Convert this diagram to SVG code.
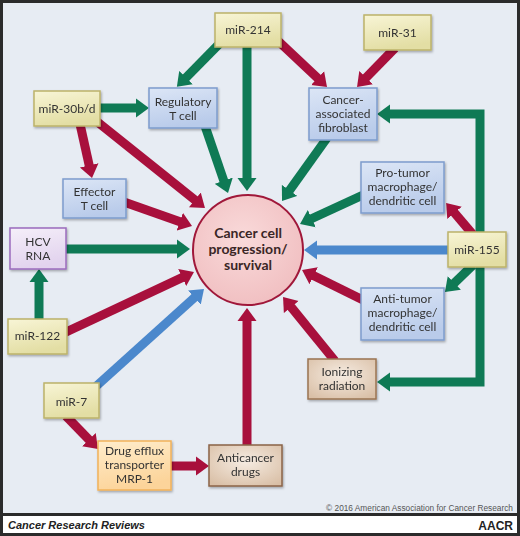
<svg xmlns="http://www.w3.org/2000/svg" width="520" height="536" viewBox="0 0 520 536">
<defs>
<style>
.t{font-family:Lato,"Liberation Sans",sans-serif;font-size:12px;fill:#333;text-anchor:middle}
.ct{font-family:Lato,"Liberation Sans",sans-serif;font-size:14px;font-weight:bold;fill:#3a2626;text-anchor:middle}
.g{stroke:#0f7a55;stroke-width:9;fill:none;marker-end:url(#ag)}
.r{stroke:#a8103c;stroke-width:9;fill:none;marker-end:url(#ar)}
.b{stroke:#4b88cc;stroke-width:9;fill:none;marker-end:url(#ab)}
.mi{fill:url(#gy);stroke:#bcb36a;stroke-width:1.5}
.bl{fill:url(#gb);stroke:#7d9ccd;stroke-width:1.5}
.pu{fill:url(#gp);stroke:#9b6bbd;stroke-width:1.5}
.or{fill:url(#go);stroke:#f2b25a;stroke-width:1.5}
.br{fill:url(#gt);stroke:#8b6347;stroke-width:1.5}
.nd{filter:url(#sh)}
</style>
<marker id="ag" markerUnits="userSpaceOnUse" markerWidth="14" markerHeight="20" viewBox="0 -10 14 20" refX="1" refY="0" orient="auto-start-reverse"><path d="M0,-9.5 L13,0 L0,9.5 Z" fill="#0f7a55"/></marker>
<marker id="ar" markerUnits="userSpaceOnUse" markerWidth="14" markerHeight="20" viewBox="0 -10 14 20" refX="1" refY="0" orient="auto"><path d="M0,-9.5 L13,0 L0,9.5 Z" fill="#a8103c"/></marker>
<marker id="ab" markerUnits="userSpaceOnUse" markerWidth="14" markerHeight="20" viewBox="0 -10 14 20" refX="1" refY="0" orient="auto"><path d="M0,-9.5 L13,0 L0,9.5 Z" fill="#4b88cc"/></marker>
<linearGradient id="gy" x1="0" y1="0" x2="0.3" y2="1"><stop offset="0" stop-color="#f8f5d6"/><stop offset="1" stop-color="#e3dea4"/></linearGradient>
<linearGradient id="gb" x1="0" y1="0" x2="0.3" y2="1"><stop offset="0" stop-color="#dce6f6"/><stop offset="1" stop-color="#b9cbea"/></linearGradient>
<linearGradient id="gp" x1="0" y1="0" x2="0.3" y2="1"><stop offset="0" stop-color="#f5eff9"/><stop offset="1" stop-color="#e2d3ee"/></linearGradient>
<linearGradient id="go" x1="0" y1="0" x2="0.3" y2="1"><stop offset="0" stop-color="#ffedcc"/><stop offset="1" stop-color="#fcd49a"/></linearGradient>
<radialGradient id="gt" cx="0.5" cy="0.4" r="0.7"><stop offset="0" stop-color="#f6ece2"/><stop offset="1" stop-color="#d9bfa6"/></radialGradient>
<radialGradient id="gc" cx="0.45" cy="0.4" r="0.6"><stop offset="0" stop-color="#f9dada"/><stop offset="1" stop-color="#f1c0c2"/></radialGradient>
<filter id="sh" x="-10%" y="-10%" width="130%" height="140%"><feDropShadow dx="1" dy="1.5" stdDeviation="1.2" flood-color="#000" flood-opacity="0.3"/></filter>
</defs>
<rect x="0" y="0" width="520" height="536" fill="#2b2b2b"/>
<rect x="3" y="3" width="514" height="510" fill="#e7ecf3"/>
<rect x="3" y="516" width="514" height="17" fill="#ffffff"/>
<text x="513" y="511" style="font-family:'Liberation Sans',sans-serif;font-size:8.3px;fill:#555;text-anchor:end">© 2016 American Association for Cancer Research</text>
<text x="8" y="529" style="font-family:'Liberation Sans',sans-serif;font-size:11px;font-weight:bold;font-style:italic;fill:#222">Cancer Research Reviews</text>
<text x="513" y="530" style="font-family:'Liberation Sans',sans-serif;font-size:12px;font-weight:bold;fill:#222;text-anchor:end">AACR</text>
<g id="connectors">
<line class="g" x1="225" y1="38" x2="185.3" y2="78.3"/>
<line class="g" x1="247" y1="45" x2="247" y2="179"/>
<line class="g" x1="98" y1="108" x2="137" y2="108"/>
<line class="g" x1="205" y1="126" x2="224.1" y2="181.6"/>
<line class="g" x1="327" y1="138" x2="289" y2="191.2"/>
<line class="g" x1="363" y1="195" x2="310.9" y2="219"/>
<line class="g" x1="64" y1="249" x2="178" y2="249"/>
<line class="g" x1="39" y1="321" x2="39" y2="281"/>
<path class="g" d="M389,114 L480,114 L480,382 L389,382" style="marker-start:url(#ag)"/>
<line class="g" x1="473" y1="265" x2="453.6" y2="283.7"/>
<line class="r" x1="275" y1="38" x2="318.3" y2="78.8"/>
<line class="r" x1="395" y1="48" x2="365.4" y2="78.4"/>
<line class="r" x1="80" y1="124" x2="89.4" y2="166.3"/>
<line class="r" x1="95" y1="120" x2="195.6" y2="200.5"/>
<line class="r" x1="124" y1="202" x2="180.7" y2="222"/>
<line class="r" x1="64" y1="333" x2="183.1" y2="277.1"/>
<line class="r" x1="247" y1="447" x2="247" y2="320"/>
<line class="r" x1="335" y1="361" x2="290.6" y2="306.3"/>
<line class="r" x1="363" y1="300" x2="312.8" y2="275.3"/>
<line class="r" x1="475" y1="237" x2="453.9" y2="212.1"/>
<line class="r" x1="66" y1="416" x2="89.6" y2="440.4"/>
<line class="r" x1="169" y1="466" x2="197" y2="466"/>
<line class="b" x1="450" y1="250" x2="316" y2="250"/>
<line class="b" x1="92" y1="390" x2="195.1" y2="297"/>
</g>
<g id="center"><circle cx="248" cy="250" r="55" fill="url(#gc)" stroke="#a0183a" stroke-width="2"/><text class="ct" x="248" y="238">Cancer cell</text><text class="ct" x="248" y="254">progression/</text><text class="ct" x="248" y="270">survival</text></g>
<g id="mir214" class="nd"><rect class="mi" x="215" y="13" width="66" height="34"/><text class="t" x="248" y="34">miR-214</text></g>
<g id="mir31" class="nd"><rect class="mi" x="364" y="15" width="67" height="35"/><text class="t" x="397.5" y="36.5">miR-31</text></g>
<g id="mir30" class="nd"><rect class="mi" x="34" y="91" width="66" height="35"/><text class="t" x="67" y="112.5">miR-30b/d</text></g>
<g id="regt" class="nd"><rect class="bl" x="149" y="88" width="68" height="40"/><text class="t" x="183" y="106">Regulatory</text><text class="t" x="183" y="119.5">T cell</text></g>
<g id="caf" class="nd"><rect class="bl" x="309" y="88" width="68" height="52"/><text class="t" x="343" y="104">Cancer-</text><text class="t" x="343" y="118">associated</text><text class="t" x="343" y="132">fibroblast</text></g>
<g id="protumor" class="nd"><rect class="bl" x="361" y="162" width="83" height="51"/><text class="t" x="402.5" y="177">Pro-tumor</text><text class="t" x="402.5" y="191">macrophage/</text><text class="t" x="402.5" y="205">dendritic cell</text></g>
<g id="mir155" class="nd"><rect class="mi" x="448" y="232" width="58" height="35"/><text class="t" x="477" y="253.5">miR-155</text></g>
<g id="antitumor" class="nd"><rect class="bl" x="361" y="288" width="83" height="52"/><text class="t" x="402.5" y="303">Anti-tumor</text><text class="t" x="402.5" y="317">macrophage/</text><text class="t" x="402.5" y="331">dendritic cell</text></g>
<g id="ionizing" class="nd"><rect class="br" x="308" y="359" width="68" height="40" style="stroke:#9a7452"/><text class="t" x="342" y="376">Ionizing</text><text class="t" x="342" y="390">radiation</text></g>
<g id="effector" class="nd"><rect class="bl" x="63" y="179" width="63" height="39"/><text class="t" x="94.5" y="196">Effector</text><text class="t" x="94.5" y="209.5">T cell</text></g>
<g id="hcv" class="nd"><rect class="pu" x="10" y="228" width="56" height="41"/><text class="t" x="38" y="246">HCV</text><text class="t" x="38" y="259.5">RNA</text></g>
<g id="mir122" class="nd"><rect class="mi" x="8" y="319" width="59" height="35"/><text class="t" x="37.5" y="340">miR-122</text></g>
<g id="mir7" class="nd"><rect class="mi" x="44" y="383" width="55" height="35"/><text class="t" x="71.5" y="406">miR-7</text></g>
<g id="mrp1" class="nd"><rect class="or" x="98" y="441" width="73" height="49"/><text class="t" x="134.5" y="455">Drug efflux</text><text class="t" x="134.5" y="469">transporter</text><text class="t" x="134.5" y="483">MRP-1</text></g>
<g id="drugs" class="nd"><rect class="br" x="209" y="445" width="73" height="41"/><text class="t" x="245.5" y="462">Anticancer</text><text class="t" x="245.5" y="476">drugs</text></g>
</svg>
